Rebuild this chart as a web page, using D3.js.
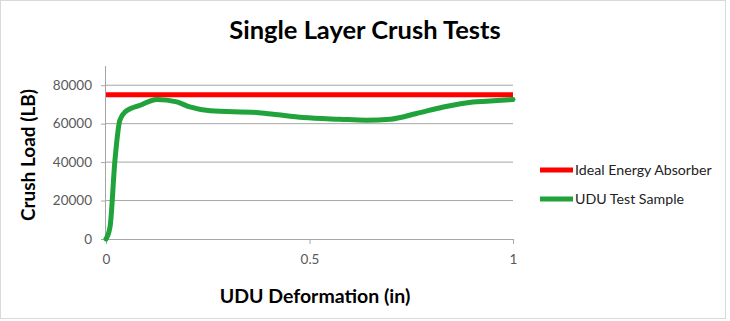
<!DOCTYPE html>
<html>
<head>
<meta charset="utf-8">
<script src="https://cdn.jsdelivr.net/npm/d3@7"></script>
<style>
  body { margin: 0; background: #fff; }
  svg text { font-family: Lato, "Open Sans", sans-serif; }
</style>
</head>
<body>
<svg id="chart"></svg>
<script>
// data
const deformation = [0, 0.01, 0.022, 0.034, 0.047, 0.084, 0.125, 0.174, 0.206, 0.256, 0.37, 0.411, 0.485, 0.575, 0.64, 0.698, 0.763, 0.829, 0.902, 0.935, 1.0];
const crushLoad = [0, 6400, 41000, 61800, 66100, 69600, 72600, 71300, 68700, 66700, 65800, 64900, 63200, 62300, 61800, 62300, 65300, 68700, 71300, 71700, 72600];
const idealX = [0, 1];
const idealLoad = [75000, 75000];
const yTicks = [0, 20000, 40000, 60000, 80000];
const xTicks = [0, 0.5, 1];
const seriesNames = ["Ideal Energy Absorber", "UDU Test Sample"];
const seriesColors = ["#ff0000", "#1fa33a"];

const width = 730, height = 321;
const margin = {left: 106, right: 217, top: 66, bottom: 82};

const svg = d3.select("#chart")
    .attr("width", width)
    .attr("height", height);

// chart border
svg.append("rect")
    .attr("x", 0.5).attr("y", 0.5)
    .attr("width", 725).attr("height", 318)
    .attr("fill", "#fff")
    .attr("stroke", "#d9d9d9");

const x = d3.scaleLinear().domain([0, 1]).range([margin.left, width - margin.right]);
const y = d3.scaleLinear().domain([0, 90000]).range([height - margin.bottom, margin.top]);

// gridlines
svg.append("g")
    .selectAll("line")
    .data(yTicks.filter(d => d > 0))
    .join("line")
    .attr("x1", x(0)).attr("x2", x(1))
    .attr("y1", d => y(d)).attr("y2", d => y(d))
    .attr("stroke", "#a6a6a6")
    .attr("stroke-width", 1);

// y axis
const yAxis = svg.append("g")
    .attr("transform", `translate(${x(0)},0)`)
    .call(d3.axisLeft(y).tickValues(yTicks).tickSize(5).tickPadding(9).tickFormat(d3.format("d")));
yAxis.select(".domain").attr("stroke", "#a6a6a6").attr("d", `M-0.5,${y(0)}V${y(90000)}`);
yAxis.selectAll(".tick line").attr("stroke", "#a6a6a6");
yAxis.selectAll(".tick text").attr("font-size", 13.5).attr("fill", "#595959")
    .style("font-family", "Lato, sans-serif");

// x axis
const xAxis = svg.append("g")
    .attr("transform", `translate(0,${y(0)})`)
    .call(d3.axisBottom(x).tickValues(xTicks).tickSize(5).tickPadding(10).tickFormat(d3.format("")));
xAxis.select(".domain").attr("stroke", "#a6a6a6").attr("d", `M${x(0)},0.5H${x(1)}`);
xAxis.selectAll(".tick line").attr("stroke", "#a6a6a6");
xAxis.selectAll(".tick text").attr("font-size", 13.5).attr("fill", "#595959")
    .style("font-family", "Lato, sans-serif");

// ideal line
const lineGen = d3.line().x(d => x(d[0])).y(d => y(d[1]));
svg.append("path")
    .datum(d3.zip(idealX, idealLoad))
    .attr("d", lineGen)
    .attr("fill", "none")
    .attr("stroke", seriesColors[0])
    .attr("stroke-width", 5);

// test sample
svg.append("path")
    .datum(d3.zip(deformation, crushLoad))
    .attr("d", lineGen.curve(d3.curveMonotoneX))
    .attr("fill", "none")
    .attr("stroke", seriesColors[1])
    .attr("stroke-width", 5)
    .attr("stroke-linejoin", "round")
    .attr("stroke-linecap", "round");

// title
svg.append("text")
    .attr("x", 365).attr("y", 39)
    .attr("text-anchor", "middle")
    .attr("font-size", 25.5).attr("font-weight", "bold")
    .attr("fill", "#000")
    .text("Single Layer Crush Tests");

// axis titles
svg.append("text")
    .attr("transform", "translate(35,155) rotate(-90)")
    .attr("text-anchor", "middle")
    .attr("font-size", 19).attr("font-weight", "bold")
    .text("Crush Load (LB)");

svg.append("text")
    .attr("x", 315).attr("y", 303)
    .attr("text-anchor", "middle")
    .attr("font-size", 19.5).attr("font-weight", "bold")
    .text("UDU Deformation (in)");

// legend
const legend = svg.append("g")
    .selectAll("g")
    .data(seriesNames)
    .join("g")
    .attr("transform", (d, i) => `translate(540,${170 + i * 29})`);
legend.append("line")
    .attr("x1", 0).attr("x2", 33)
    .attr("stroke", (d, i) => seriesColors[i])
    .attr("stroke-width", 5);
legend.append("text")
    .attr("x", 35).attr("y", 5)
    .attr("font-size", 14.2)
    .attr("fill", "#222")
    .text(d => d);
</script>
</body>
</html>
